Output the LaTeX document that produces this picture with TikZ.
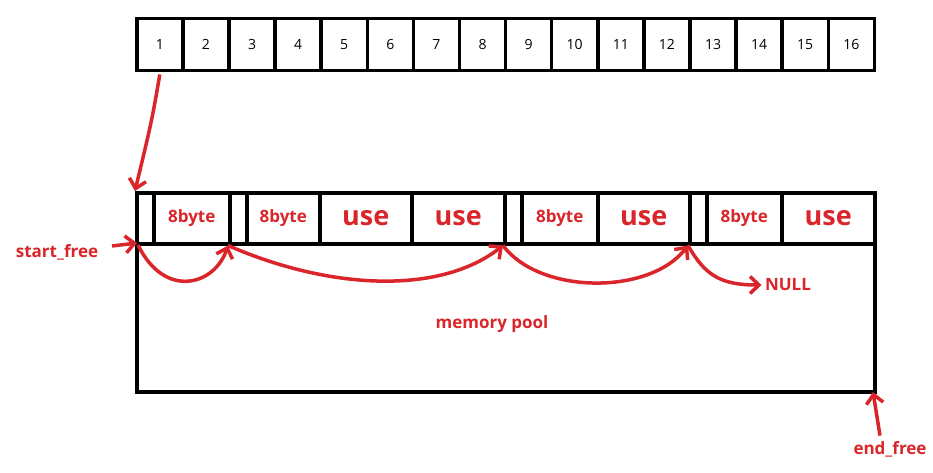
\documentclass[tikz,border=0pt]{standalone}
\usepackage{fontspec}
\setmainfont{Open Sans}
\usetikzlibrary{arrows.meta}
\definecolor{myred}{RGB}{218,38,42}
\begin{document}
\begin{tikzpicture}[x=1pt,y=-1pt,
  cell/.style={draw=black,line width=3.5pt,minimum height=52pt,inner sep=0pt,anchor=north west},
  num/.style={font=\fontsize{14}{14}\selectfont},
  lbl/.style={text=myred,font=\bfseries\fontsize{17}{17}\selectfont},
  big/.style={text=myred,font=\bfseries\fontsize{27}{27}\selectfont},
  arr/.style={draw=myred,line width=3.5pt,-{Straight Barb[length=9pt,width=17pt]}}]
\useasboundingbox (0,0) rectangle (933,473);
\fill[white] (0,0) rectangle (933,473);
% top array
\foreach \i in {1,...,16}{
  \node[cell,num,minimum width=46.1pt] (c\i) at ({135+(\i-1)*46.1},17) {\i};
}
% memory pool
\node[cell,minimum width=738pt,minimum height=199pt] (pool) at (135,191) {};
\node[lbl] (mp) at (492,324) {memory pool};
\node[cell,minimum width=17pt,minimum height=51pt] (s1) at (135,191) {};
\node[cell,lbl,minimum width=76pt,minimum height=51pt] (b1) at (152,191) {8byte};
\node[cell,minimum width=17pt,minimum height=51pt] (s2) at (228,191) {};
\node[cell,lbl,minimum width=73pt,minimum height=51pt] (b2) at (245,191) {8byte};
\node[cell,big,minimum width=92pt,minimum height=51pt] (u1) at (318,191) {use};
\node[cell,big,minimum width=93pt,minimum height=51pt] (u2) at (410,191) {use};
\node[cell,minimum width=17pt,minimum height=51pt] (s3) at (503,191) {};
\node[cell,lbl,minimum width=76pt,minimum height=51pt] (b3) at (520,191) {8byte};
\node[cell,big,minimum width=92pt,minimum height=51pt] (u3) at (596,191) {use};
\node[cell,minimum width=17pt,minimum height=51pt] (s4) at (688,191) {};
\node[cell,lbl,minimum width=75pt,minimum height=51pt] (b4) at (705,191) {8byte};
\node[cell,big,minimum width=93pt,minimum height=51pt] (u4) at (780,191) {use};
% labels
\node[lbl] (sf) at (57,252) {start\_free};
\node[lbl] (null) at (788,285) {NULL};
\node[lbl] (ef) at (890,449) {end\_free};
\coordinate (ps) at (137,243);
\coordinate (pe) at (873,392);
% arrows
\draw[arr] (c1.south) ++(0,2) .. controls (152,120) .. (s1.north west);
\draw[arr] (112,246) -- (ps);
\draw[arr] (138,245) .. controls (165,300) and (215,285) .. (s2.south west);
\draw[arr] (s2.south west) .. controls (330,290) and (440,295) .. (s3.south west);
\draw[arr] (s3.south west) .. controls (540,295) and (650,295) .. (s4.south west);
\draw[arr] (s4.south west) .. controls (705,275) and (720,285) .. (null.west);
\draw[arr] (ef.north -| 880,0) ++(0,-2) -- (pe);
\end{tikzpicture}
\end{document}
